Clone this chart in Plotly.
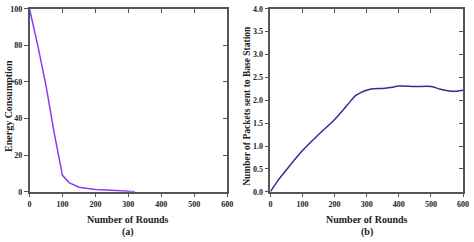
import plotly.graph_objects as go

# Data
rounds_a = [0, 25, 50, 75, 100, 120, 150, 175, 200, 250, 300, 320]
energy_a = [100, 80, 58, 32, 9, 5, 2.5, 2.0, 1.2, 0.8, 0.4, 0.0]

rounds_b = [0, 25, 50, 100, 150, 200, 240, 265, 285, 300, 320, 350, 375, 400, 450, 500, 530, 560, 580, 600]
packets_b = [0.0, 0.26, 0.48, 0.9, 1.25, 1.58, 1.9, 2.1, 2.18, 2.22, 2.25, 2.26, 2.28, 2.31, 2.3, 2.3, 2.24, 2.2, 2.2, 2.22]

x_ticks = [0, 100, 200, 300, 400, 500, 600]
ya_ticks = [0, 20, 40, 60, 80, 100]
yb_ticks = [0.0, 0.5, 1.0, 1.5, 2.0, 2.5, 3.0, 3.5, 4.0]

W, H = 474, 242
def px(x): return x / W
def py(y): return (H - y) / H

axcol = "#555"
tickfont = dict(family="Liberation Serif", size=8, color="#222", weight="bold")

fig = go.Figure()
fig.add_trace(go.Scatter(x=rounds_a, y=energy_a, mode="lines",
                         line=dict(color="#8a3cf0", width=1.5), xaxis="x", yaxis="y"))
fig.add_trace(go.Scatter(x=rounds_b, y=packets_b, mode="lines", line_shape="spline",
                         line=dict(color="#2e3192", width=1.5), xaxis="x2", yaxis="y2"))

ydom = [py(195), py(5)]
xa = [px(28), px(229)]
xb = [px(273), px(469)]

common_x = dict(range=[0, 600], tickvals=x_ticks, ticks="outside", ticklen=4, tickwidth=1,
                tickcolor=axcol, showline=True, linecolor=axcol, linewidth=1.5, mirror=True,
                showgrid=False, zeroline=False, tickfont=tickfont, fixedrange=True)
common_y = dict(ticks="outside", ticklen=4, tickwidth=1, tickcolor=axcol, showline=True,
                linecolor=axcol, linewidth=1.5, mirror=True, showgrid=False, zeroline=False,
                tickfont=tickfont, fixedrange=True)
overlay = dict(ticks="inside", ticklen=4, tickcolor=axcol, showticklabels=False, showgrid=False,
               zeroline=False, showline=False, fixedrange=True)

fig.update_layout(
    width=W, height=H, margin=dict(l=0, r=0, t=0, b=0),
    paper_bgcolor="white", plot_bgcolor="white", showlegend=False,
    xaxis=dict(domain=xa, anchor="y", **common_x),
    yaxis=dict(domain=ydom, anchor="x", range=[0, 100], tickvals=ya_ticks, **common_y),
    xaxis2=dict(domain=xb, anchor="y2", **common_x),
    yaxis2=dict(domain=ydom, anchor="x2", range=[0, 4], tickvals=yb_ticks,
                ticktext=[f"{v:.1f}" for v in yb_ticks], **common_y),
    xaxis3=dict(domain=xa, anchor="y", overlaying="x", side="top", range=[0, 600], tickvals=x_ticks, **overlay),
    xaxis4=dict(domain=xb, anchor="y2", overlaying="x2", side="top", range=[0, 600], tickvals=x_ticks, **overlay),
    yaxis3=dict(domain=ydom, anchor="x", overlaying="y", side="right", range=[0, 100], tickvals=ya_ticks, **overlay),
    yaxis4=dict(domain=ydom, anchor="x2", overlaying="y2", side="right", range=[0, 4], tickvals=yb_ticks, **overlay),
)
fig.add_trace(go.Scatter(x=[None], y=[None], xaxis="x3", yaxis="y3", showlegend=False, hoverinfo="skip"))
fig.add_trace(go.Scatter(x=[None], y=[None], xaxis="x4", yaxis="y4", showlegend=False, hoverinfo="skip"))

tfont = dict(family="Liberation Serif", size=10, color="#222")
ann = [
    dict(text="<b>Number of Rounds</b>", x=px(128), y=py(224), size=10),
    dict(text="<b>(a)</b>", x=px(128), y=py(237), size=10),
    dict(text="<b>Number of Rounds</b>", x=px(371), y=py(224), size=10),
    dict(text="<b>(b)</b>", x=px(371), y=py(237), size=10),
    dict(text="<b>Energy Consumption</b>", x=px(6), y=py(106), textangle=-90, size=10),
    dict(text="<b>Number of Packets sent to Base Station</b>", x=px(249), y=py(106), textangle=-90, size=9.5),
]
for a in ann:
    s = a.pop("size")
    fig.add_annotation(xref="paper", yref="paper", showarrow=False,
                       font=dict(family="Liberation Serif", size=s, color="#222"),
                       xanchor="center", yanchor="middle", **a)

fig.write_html("out.html")
